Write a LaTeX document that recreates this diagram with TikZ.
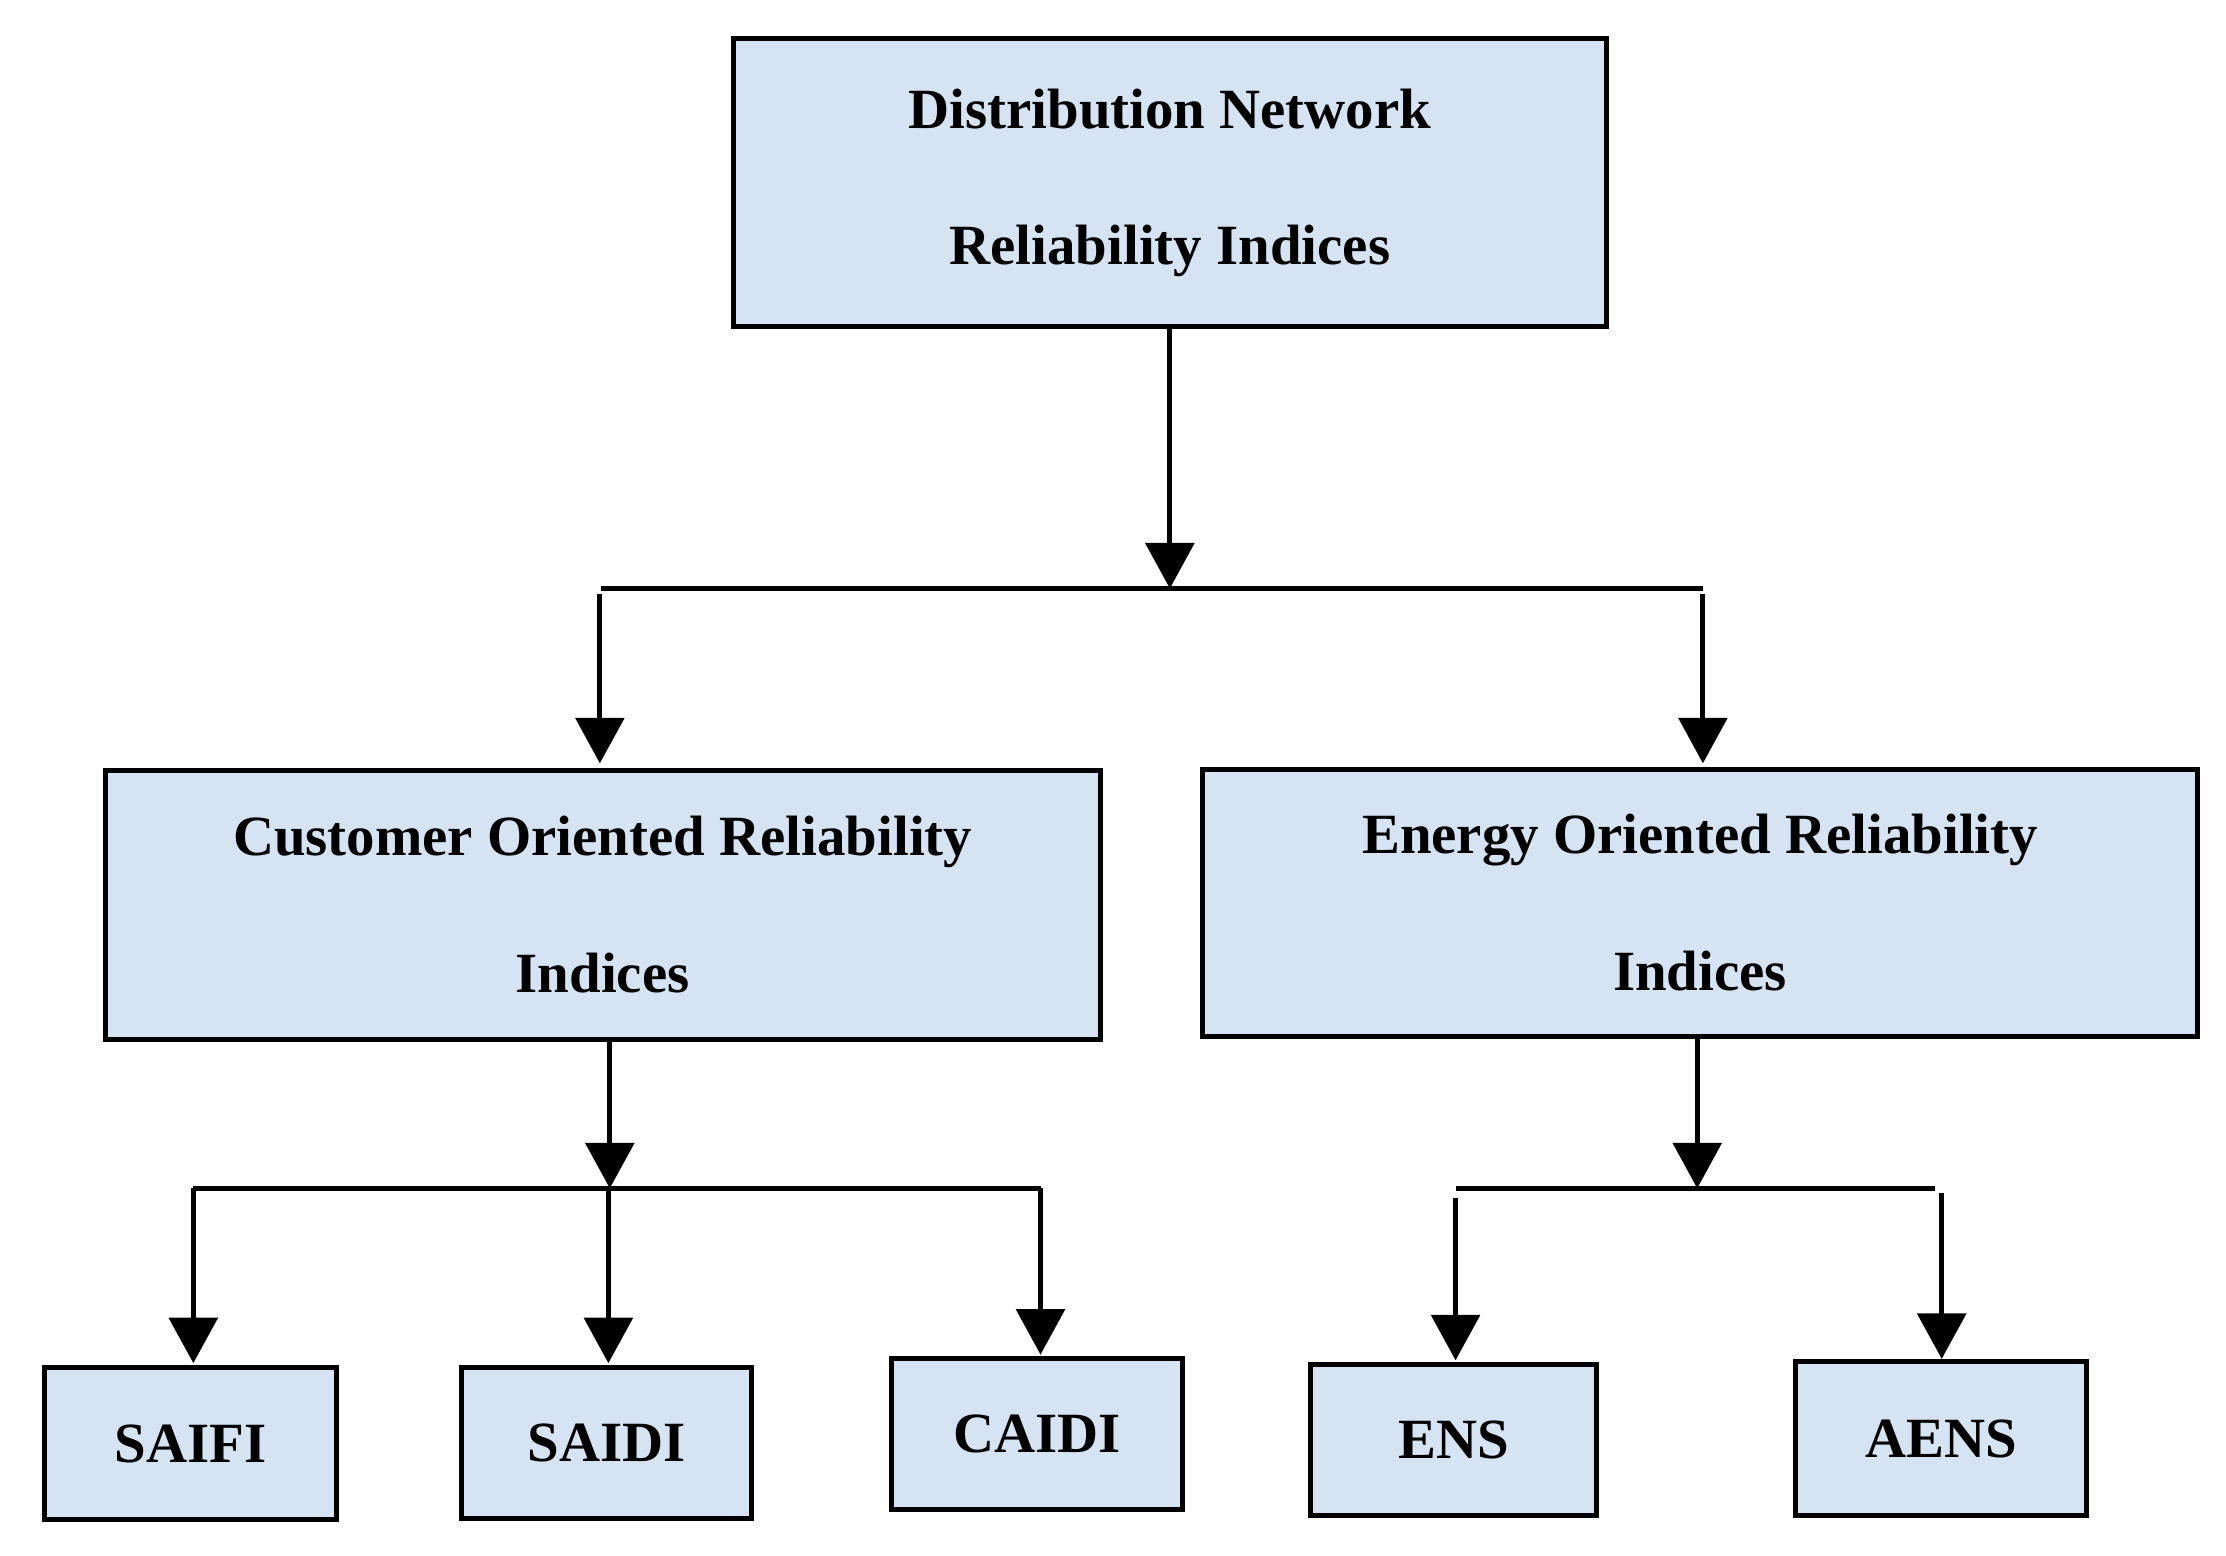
\documentclass[tikz,border=0pt]{standalone}
\usepackage{fontspec}
\setmainfont{Liberation Serif}
\usetikzlibrary{arrows.meta}
\begin{document}
\begin{tikzpicture}[x=1pt,y=-1pt,
  box/.style={draw=black,line width=3.5pt,fill={rgb,255:red,214;green,227;blue,243},inner sep=0pt,align=center,font=\bfseries\fontsize{40}{96}\selectfont},
  ln/.style={line width=3.5pt},
  arr/.style={ln,-{Triangle[width=34pt,length=32pt]}}]
\useasboundingbox (0,0) rectangle (1566,1094);
\node[box,minimum width=614pt,minimum height=203pt] (top) at (823,128.5) {Distribution Network\\Reliability Indices};
\node[box,minimum width=700pt,minimum height=189pt] (cust) at (424,636.5) {Customer Oriented Reliability\\Indices};
\node[box,minimum width=700pt,minimum height=188pt] (ener) at (1196,635) {Energy Oriented Reliability\\Indices};
\node[box,minimum width=206pt,minimum height=107pt] (saifi) at (134,1015.5) {SAIFI};
\node[box,minimum width=204pt,minimum height=106pt] (saidi) at (427,1015) {SAIDI};
\node[box,minimum width=205pt,minimum height=106pt] (caidi) at (729.5,1009) {CAIDI};
\node[box,minimum width=201pt,minimum height=106pt] (ens) at (1022.5,1013) {ENS};
\node[box,minimum width=205pt,minimum height=108pt] (aens) at (1365.5,1012) {AENS};
\coordinate (j1) at (823,414);
\coordinate (j1l) at (423,414);
\coordinate (j1r) at (1198,414);
\coordinate (j2) at (429,836);
\coordinate (j2l) at (136,836);
\coordinate (j2r) at (732,836);
\coordinate (j3) at (1194,836);
\coordinate (j3l) at (1024,836);
\coordinate (j3r) at (1361,836);
\draw[arr] (top.south) -- (j1);
\draw[ln] (j1l) -- (j1r);
\draw[arr] (422,418) -- (422,537);
\draw[arr] (1198,418) -- (1198,537);
\draw[arr] (429,731) -- (j2);
\draw[ln] (j2l) -- (j2r);
\draw[arr] (j2l) -- (136,959);
\draw[arr] (428,836) -- (428,959);
\draw[arr] (j2r) -- (732,953);
\draw[arr] (ener.south-|j3) -- (j3);
\draw[ln] (j3l) -- (j3r);
\draw[arr] (1024,843) -- (1024,957);
\draw[arr] (1366,839) -- (1366,956);
\end{tikzpicture}
\end{document}
